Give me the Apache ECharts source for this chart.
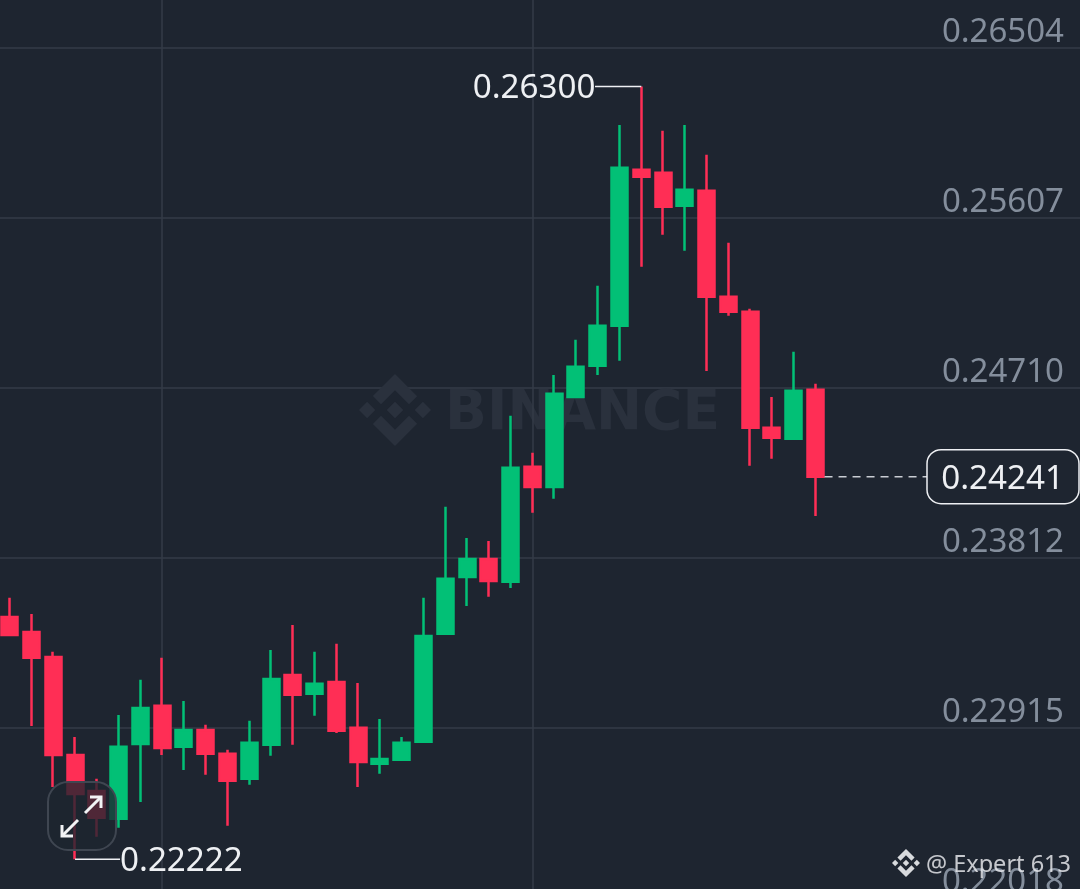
<!DOCTYPE html>
<html>
<head>
<meta charset="utf-8">
<style>html,body{margin:0;padding:0;background:#1e2530}#c{width:1080px;height:889px}</style>
<script src="https://cdn.jsdelivr.net/npm/echarts@6/dist/echarts.min.js"></script>
</head>
<body>
<div id="c"></div>
<script>
var opens  = [.23501,.23422,.23290,.22773,.22583,.22436,.22831,.23032,.22816,.22905,.22779,.22647,.22826,.23195,.23095,.23158,.22916,.22726,.22747,.22842,.23412,.23712,.23807,.23686,.24293,.24187,.24662,.24826,.25037,.25860,.25844,.25670,.25749,.25190,.25111,.24499,.24441,.24699];
var closes = [.23406,.23285,.22773,.22567,.22441,.22816,.23021,.22810,.22905,.22779,.22636,.22837,.23174,.23090,.23148,.22900,.22736,.22752,.22837,.23401,.23702,.23807,.23691,.24288,.24187,.24678,.24821,.25037,.25871,.25823,.25665,.25755,.25190,.25111,.24499,.24446,.24694,.24241];
var lows   = [.23401,.22926,.22604,.22222,.22341,.22388,.22525,.22773,.22694,.22668,.22399,.22615,.22768,.22826,.22979,.22889,.22604,.22673,.22742,.22842,.23410,.23559,.23607,.23654,.24050,.24124,.24657,.24778,.24852,.25348,.25517,.25433,.24799,.25090,.24298,.24335,.24435,.24034];
var highs  = [.23602,.23517,.23317,.22868,.22647,.22984,.23169,.23285,.23058,.22932,.22800,.22953,.23327,.23459,.23317,.23359,.23153,.22963,.22868,.23602,.24082,.23918,.23902,.24562,.24367,.24778,.24963,.25248,.26097,.26300,.26066,.26097,.25939,.25475,.25127,.24662,.24900,.24731];
var futureSlots = 12;
var yTicks = ['0.26504','0.25607','0.24710','0.23812','0.22915','0.22018'];
var highLabel = '0.26300', lowLabel = '0.22222', lastLabel = '0.24241';
var highIndex = 29, lowIndex = 3, lastIndex = 37;
var gridXIndexes = [7, 24];

var categories = opens.map(function (_, i) { return i; });
for (var k = 0; k < futureSlots; k++) categories.push(opens.length + k);
var candleData = opens.map(function (o, i) { return [o, closes[i], lows[i], highs[i]]; });

var UP = '#02c076', DOWN = '#ff2e55', BG = '#1e2530', GRID = '#343b47', LABEL = '#848e9c', WHITE = '#eef0f3';
var FONT = '"Noto Sans"';
var tickValues = yTicks.map(Number);

var chart = echarts.init(document.getElementById('c'), null, { renderer: 'canvas', width: 1080, height: 889 });
chart.setOption({
  animation: false,
  backgroundColor: BG,
  grid: { left: -1.2, top: 0, width: 1089, height: 898, containLabel: false, outerBoundsMode: 'none' },
  xAxis: {
    type: 'category', data: categories, boundaryGap: true,
    axisLine: { show: false }, axisTick: { show: false }, axisLabel: { show: false }, splitLine: { show: false }
  },
  yAxis: {
    type: 'value', position: 'right', min: 0.22018, max: 0.26756, scale: true,
    axisLine: { show: false },
    axisTick: { show: false, customValues: tickValues },
    axisLabel: {
      inside: true, margin: 23.8, color: LABEL, fontFamily: FONT, fontSize: 33,
      verticalAlign: 'bottom', lineHeight: 30, customValues: tickValues, showMinLabel: true, showMaxLabel: true,
      formatter: function (v) { return v.toFixed(5); }
    },
    splitLine: { show: true, lineStyle: { color: GRID, width: 1.5 } }
  },
  series: [{
    type: 'candlestick', data: candleData, barWidth: 16.5, clip: false,
    itemStyle: { color: UP, color0: DOWN, borderColor: UP, borderColor0: DOWN, borderWidth: 2.5 },
    markLine: {
      silent: true, symbol: 'none', z: 1, animation: false, label: { show: false },
      lineStyle: { color: GRID, width: 1.5, type: 'solid' },
      data: gridXIndexes.map(function (i) { return { xAxis: i }; })
    }
  }]
});

// Binance mark as polygons in its own 126.61-unit box
var LOGO_POLYS = [
  [[38.73,53.2],[63.3,28.63],[87.89,53.22],[102.19,38.92],[63.3,0],[24.43,38.87]],
  [[0,63.31],[14.3,49.01],[28.6,63.31],[14.3,77.61]],
  [[38.73,73.41],[63.3,97.98],[87.89,73.4],[102.2,87.69],[63.3,126.61],[24.43,87.74]],
  [[98,63.31],[112.3,49.01],[126.61,63.31],[112.31,77.61]],
  [[77.83,63.3],[63.3,48.78],[48.78,63.3],[63.3,77.82]]
];
function logo(x, y, size, fill, z) {
  var s = size / 126.61;
  return { type: 'group', x: x, y: y, scaleX: s, scaleY: s, children: LOGO_POLYS.map(function (p) {
    return { type: 'polygon', z: z, shape: { points: p }, style: { fill: fill } };
  }) };
}
var hp = chart.convertToPixel({ seriesIndex: 0 }, [highIndex, Number(highLabel)]);
var lp = chart.convertToPixel({ seriesIndex: 0 }, [lowIndex, Number(lowLabel)]);
var cp = chart.convertToPixel({ seriesIndex: 0 }, [lastIndex, Number(lastLabel)]);
var priceText = function (text, x, y, align) {
  return { type: 'text', z: 20, style: { text: text, x: x, y: y + 2.5, align: align, verticalAlign: 'middle', fill: WHITE, fontFamily: FONT, fontSize: 33.2 } };
};
chart.setOption({
  graphic: { elements: [
    logo(359, 374, 72, '#2a313d', 0),
    { type: 'text', z: 0, style: { text: 'BINANCE', x: 582.5, y: 415, align: 'center', verticalAlign: 'middle', fill: '#2a313d', fontFamily: '"DejaVu Sans"', fontWeight: 'bold', fontSize: 55 } },
    { type: 'polyline', z: 20, shape: { points: [[hp[0], hp[1]], [595, hp[1]]] }, style: { stroke: WHITE, lineWidth: 1.5, fill: null } },
    priceText(highLabel, 595.5, hp[1], 'right'),
    { type: 'polyline', z: 20, shape: { points: [[lp[0], lp[1]], [120, lp[1]]] }, style: { stroke: WHITE, lineWidth: 1.5, fill: null } },
    priceText(lowLabel, 120, lp[1], 'left'),
    { type: 'line', z: 20, shape: { x1: cp[0] + 9, y1: cp[1], x2: 928, y2: cp[1] }, style: { stroke: '#c9cdd3', lineWidth: 1.5, lineDash: [8, 6] } },
    { type: 'rect', z: 20, shape: { x: 927, y: cp[1] - 27, width: 152, height: 54, r: 14 }, style: { fill: BG, stroke: WHITE, lineWidth: 1.5 } },
    priceText(lastLabel, 1064, cp[1], 'right'),
    { type: 'rect', z: 30, shape: { x: 48, y: 782, width: 68, height: 68, r: 20 }, style: { fill: 'rgba(30,37,48,0.78)', stroke: '#3f4651', lineWidth: 2 } },
    { type: 'polyline', z: 31, shape: { points: [[85, 813], [101, 797]] }, style: { stroke: '#f2f3f5', lineWidth: 3, fill: null } },
    { type: 'polyline', z: 31, shape: { points: [[90, 797], [101, 797], [101, 808]] }, style: { stroke: '#f2f3f5', lineWidth: 3, fill: null } },
    { type: 'polyline', z: 31, shape: { points: [[78, 820], [62, 836]] }, style: { stroke: '#f2f3f5', lineWidth: 3, fill: null } },
    { type: 'polyline', z: 31, shape: { points: [[62, 825], [62, 836], [73, 836]] }, style: { stroke: '#f2f3f5', lineWidth: 3, fill: null } },
    logo(892, 849, 28, '#d8dadd', 32),
    { type: 'text', z: 32, style: { text: '@ Expert 613', x: 1071, y: 865, align: 'right', verticalAlign: 'middle', fill: 'rgba(235,237,240,0.82)', fontFamily: FONT, fontSize: 23.5 } }
  ] }
});
</script>
</body>
</html>
